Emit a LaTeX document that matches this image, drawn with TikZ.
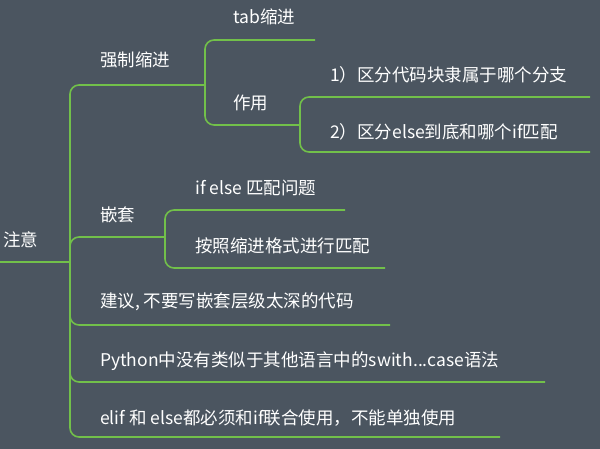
\documentclass[tikz,border=0pt]{standalone}
\usepackage{fontspec}
\setmainfont{Noto Sans CJK SC}
\definecolor{bgslate}{HTML}{4B5560}
\definecolor{mapgreen}{HTML}{72C04A}
\tikzset{
  branch/.style={draw=mapgreen, line width=1.6pt, rounded corners=9pt},
  topic/.style={anchor=west, text=white, font=\fontsize{17.5pt}{20pt}\selectfont, inner sep=0pt}
}
\begin{document}
\begin{tikzpicture}[x=1pt, y=-1pt]
      \fill [bgslate] (0, 0) rectangle (600, 449);
      \useasboundingbox (0, 0) rectangle (600, 449);
      % texts
      \node (root) [topic] at (3, 240) {注意};
      \node (force) [topic] at (100, 60) {强制缩进};
      \node (tab) [topic] at (233, 17) {tab缩进};
      \node (use) [topic] at (233, 103) {作用};
      \node (use1) [topic] at (330, 75) {1）区分代码块隶属于哪个分支};
      \node (use2) [topic] at (330, 132) {2）区分else到底和哪个if匹配};
      \node (nest) [topic] at (100, 215) {嵌套};
      \node (nest1) [topic] at (195, 188) {if else 匹配问题};
      \node (nest2) [topic] at (195, 246) {按照缩进格式进行匹配};
      \node (advice) [topic] at (100, 302) {建议, 不要写嵌套层级太深的代码};
      \node (python) [topic] at (100, 361) {Python中没有类似于其他语言中的swith...case语法};
      \node (elif) [topic] at (100, 418) {elif 和 else都必须和if联合使用，不能单独使用};
      % hubs
      \coordinate (hroot) at (70, 262);
      \coordinate (hforce) at (205, 85);
      \coordinate (huse) at (300, 125);
      \coordinate (hnest) at (165, 237);
      % connectors
      \draw [branch] (0, 262) -- (hroot);
      \draw [branch] (hroot) |- (hforce)
                     (hroot) |- (hnest)
                     (hroot) |- (390, 325)
                     (hroot) |- (545, 382)
                     (hroot) |- (500, 437);
      \draw [branch] (hforce) |- (315, 40)
                     (hforce) |- (huse);
      \draw [branch] (huse) |- (590, 97)
                     (huse) |- (590, 152);
      \draw [branch] (hnest) |- (345, 210)
                     (hnest) |- (385, 268);
\end{tikzpicture}
\end{document}
